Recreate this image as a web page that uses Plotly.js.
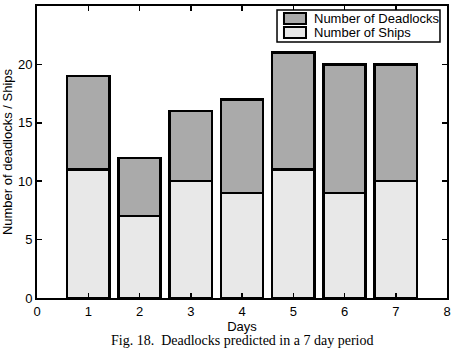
<!DOCTYPE html>
<html>
<head>
<meta charset="utf-8">
<script src="https://cdn.plot.ly/plotly-3.0.1.min.js"></script>
<style>html,body{margin:0;padding:0;background:#fff;}#chart{width:474px;height:353px;}</style>
</head>
<body>
<div id="chart"></div>
<script>
const days = [1, 2, 3, 4, 5, 6, 7];
const ships = [11, 7, 10, 9, 11, 9, 10];
const deadlocks = [8, 5, 6, 8, 10, 11, 10];
const xTicks = [0, 1, 2, 3, 4, 5, 6, 7, 8];
const yTicks = [0, 5, 10, 15, 20, 25];
const seriesNames = ['Number of Ships', 'Number of Deadlocks'];
const seriesColors = ['#e8e8e8', '#aaaaaa'];

const SANS = 'Liberation Sans, Arial, sans-serif';

const traces = [
  {type: 'bar', x: days, y: ships, name: seriesNames[0], width: 0.82,
   marker: {color: seriesColors[0], line: {color: '#000', width: 2.5}}},
  {type: 'bar', x: days, y: deadlocks, name: seriesNames[1], width: 0.82,
   marker: {color: seriesColors[1], line: {color: '#000', width: 2.5}}}
];

const axisCommon = {
  showline: true, linecolor: '#000', linewidth: 2, mirror: 'ticks',
  ticks: 'inside', ticklen: 5, tickcolor: '#000', tickwidth: 1.5,
  showgrid: false, zeroline: false,
  tickfont: {family: SANS, size: 13, color: '#000'}
};

// manual legend (paper coords), Deadlocks on top, Ships below
const legendRows = [
  {name: seriesNames[1], color: seriesColors[1], y0: 0.938, y1: 0.976, ty: 0.957},
  {name: seriesNames[0], color: seriesColors[0], y0: 0.890, y1: 0.928, ty: 0.909}
];
const shapes = [{type: 'rect', xref: 'paper', yref: 'paper', x0: 0.5854, x1: 0.9829, y0: 0.8767, y1: 0.9863,
  fillcolor: '#fff', line: {color: '#000', width: 1.5}, layer: 'above'}];
const annotations = [];
legendRows.forEach(r => {
  shapes.push({type: 'rect', xref: 'paper', yref: 'paper', x0: 0.6024, x1: 0.6561, y0: r.y0, y1: r.y1,
    fillcolor: r.color, line: {color: '#000', width: 2}, layer: 'above'});
  annotations.push({text: r.name, xref: 'paper', yref: 'paper', x: 0.6707, xanchor: 'left',
    y: r.ty, yanchor: 'middle', showarrow: false, font: {family: SANS, size: 13, color: '#000'}});
});
annotations.push({
  text: 'Fig. 18.  Deadlocks predicted in a 7 day period',
  xref: 'paper', yref: 'paper', x: 0.5, xanchor: 'center',
  y: -0.112, yanchor: 'top', showarrow: false,
  font: {family: 'Liberation Serif, Times New Roman, serif', size: 14, color: '#000'}
});

const layout = {
  width: 474, height: 353,
  margin: {l: 37, r: 27, t: 6, b: 55},
  paper_bgcolor: '#fff', plot_bgcolor: '#fff',
  barmode: 'stack',
  showlegend: false,
  xaxis: Object.assign({}, axisCommon, {range: [0, 8], tickvals: xTicks,
    title: {text: 'Days', standoff: 0, font: {family: SANS, size: 13, color: '#000'}}}),
  yaxis: Object.assign({}, axisCommon, {range: [0, 25], tickvals: yTicks,
    title: {text: 'Number of deadlocks / Ships', standoff: 4, font: {family: SANS, size: 13, color: '#000'}}}),
  shapes: shapes,
  annotations: annotations
};

Plotly.newPlot('chart', traces, layout, {displayModeBar: false, staticPlot: true});
</script>
</body>
</html>
